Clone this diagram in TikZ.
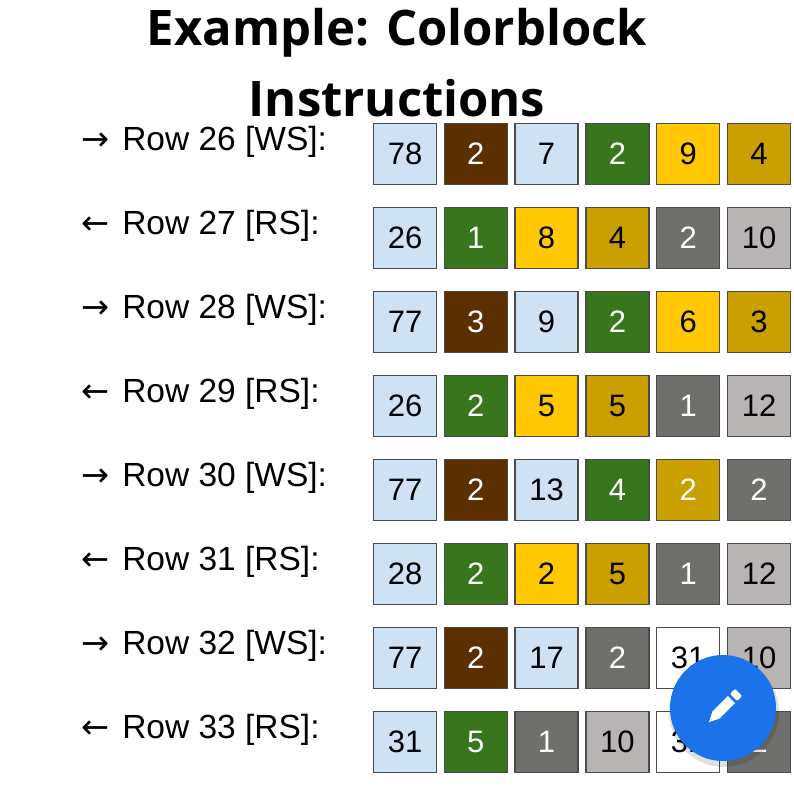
\documentclass[tikz,border=0pt]{standalone}
\usepackage{fontspec}
\setmainfont{Liberation Sans}
\newfontfamily\titlefont{Open Sans}
\newfontfamily\arr{DejaVu Sans}
\begin{document}
\begin{tikzpicture}[x=1pt,y=-1pt,
  cell/.style={draw=black!70,line width=1.4pt,minimum width=63pt,minimum height=61pt,inner sep=0pt,font=\fontsize{31}{31}\selectfont},
  lbl/.style={anchor=west,inner sep=0pt,font=\fontsize{33.5}{33.5}\selectfont},
  ttl/.style={font=\titlefont\bfseries\fontsize{49}{49}\selectfont}]
\definecolor{lb}{HTML}{CFE2F3}
\definecolor{br}{HTML}{5B2F00}
\definecolor{gr}{HTML}{38761D}
\definecolor{ye}{HTML}{FFC800}
\definecolor{go}{HTML}{C9A000}
\definecolor{dg}{HTML}{6F6F6B}
\definecolor{lg}{HTML}{B9B4B4}
\definecolor{wh}{HTML}{FFFFFF}
\definecolor{fab}{HTML}{1A73E8}
\useasboundingbox (0,0) rectangle (794,794);
\fill[white] (0,0) rectangle (794,794);
\def\rows{26/→/WS/{lb/black/78,br/white/2,lb/black/7,gr/white/2,ye/black/9,go/black/4},
27/←/RS/{lb/black/26,gr/white/1,ye/black/8,go/black/4,dg/white/2,lg/black/10},
28/→/WS/{lb/black/77,br/white/3,lb/black/9,gr/white/2,ye/black/6,go/black/3},
29/←/RS/{lb/black/26,gr/white/2,ye/black/5,go/black/5,dg/white/1,lg/black/12},
30/→/WS/{lb/black/77,br/white/2,lb/black/13,gr/white/4,go/white/2,dg/white/2},
31/←/RS/{lb/black/28,gr/white/2,ye/black/2,go/black/5,dg/white/1,lg/black/12},
32/→/WS/{lb/black/77,br/white/2,lb/black/17,dg/white/2,wh/black/31,lg/black/10},
33/←/RS/{lb/black/31,gr/white/5,dg/white/1,lg/black/10,wh/black/31,dg/white/2}}
\foreach \r/\a/\s/\cells [count=\i from 0] in \rows {
  \pgfmathsetmacro\yc{154+84*\i}
  \node[lbl] (l\r) at (81,\yc-12) {{\arr\a}\hspace*{13pt}Row \r{} [\s]:};
  \foreach \bg/\fg/\v [count=\j from 0] in \cells {
    \pgfmathsetmacro\xc{405+70.8*\j}
    \node[cell,fill=\bg,text=\fg] (c\r-\j) at (\xc,\yc) {\v};
  }
}
\node[ttl] (t1) at (397,33) {Example: Colorblock};
\node[ttl] (t2) at (397,98) {Instructions};
\fill[black,opacity=0.12] (724,712) circle (55);
\fill[fab] (723,708) circle (53) node (fab) {};
\begin{scope}[shift={(723,708)},rotate=-45]
  \fill[white,rounded corners=1pt] (-5,-22) rectangle (5,-15);
  \fill[white] (-5,-12) -- (5,-12) -- (5,10) -- (0,20) -- (-5,10) -- cycle;
\end{scope}
\end{tikzpicture}
\end{document}
